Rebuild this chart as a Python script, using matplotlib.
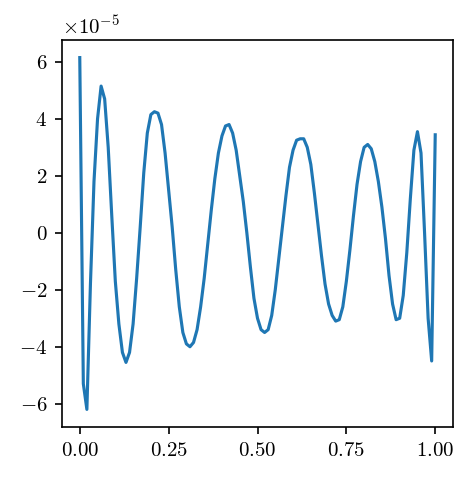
import numpy as np
import matplotlib
matplotlib.use("Agg")
import matplotlib.pyplot as plt

#########################
# DATA (units of 1e-5)
#########################

x_vals = np.linspace(0, 1, 101)

y_scaled = [
    6.15, -5.3, -6.2, -1.8, 1.8, 4.0, 5.15, 4.7, 3.0, 0.6,      # 0.00 - 0.09
    -1.7, -3.2, -4.2, -4.55, -4.2, -3.2, -1.6, 0.2, 2.1, 3.5,   # 0.10 - 0.19
    4.15, 4.25, 4.2, 3.8, 2.8, 1.5, 0.2, -1.3, -2.6, -3.5,      # 0.20 - 0.29
    -3.9, -4.0, -3.85, -3.4, -2.6, -1.6, -0.4, 0.8, 1.9, 2.8,   # 0.30 - 0.39
    3.4, 3.75, 3.8, 3.5, 2.9, 2.0, 1.1, 0.0, -1.2, -2.3,        # 0.40 - 0.49
    -3.0, -3.4, -3.5, -3.4, -2.9, -2.0, -0.9, 0.2, 1.3, 2.3,    # 0.50 - 0.59
    2.9, 3.25, 3.3, 3.3, 3.0, 2.4, 1.4, 0.3, -0.8, -1.8,        # 0.60 - 0.69
    -2.5, -2.9, -3.1, -3.05, -2.6, -1.7, -0.6, 0.6, 1.7, 2.5,   # 0.70 - 0.79
    3.0, 3.1, 2.95, 2.5, 1.8, 0.9, -0.2, -1.5, -2.5, -3.05,     # 0.80 - 0.89
    -3.0, -2.2, -0.7, 1.2, 2.9, 3.55, 2.8, 0.0, -3.0, -4.5,     # 0.90 - 0.99
    3.44,                                                      # 1.00
]

y_vals = np.array(y_scaled) * 1e-5

#########################
# STYLE
#########################

plt.rcParams["font.family"] = "serif"
plt.rcParams["font.serif"] = ["cmr10", "DejaVu Serif"]
plt.rcParams["mathtext.fontset"] = "cm"
plt.rcParams["axes.formatter.use_mathtext"] = True
plt.rcParams["font.size"] = 10

#########################
# PLOT
#########################

fig = plt.figure(figsize=(474 / 150, 482 / 150), dpi=150)
ax = fig.add_axes([62 / 474, 1 - 427 / 482, (453 - 62) / 474, (427 - 40) / 482])
ax.plot(x_vals, y_vals, color="C0", linewidth=1.5)
ax.set_xticks([0.0, 0.25, 0.5, 0.75, 1.0])
ax.set_yticks(np.arange(-6, 7, 2) * 1e-5)

fig.savefig("out.png", dpi=150)
plt.close(fig)
